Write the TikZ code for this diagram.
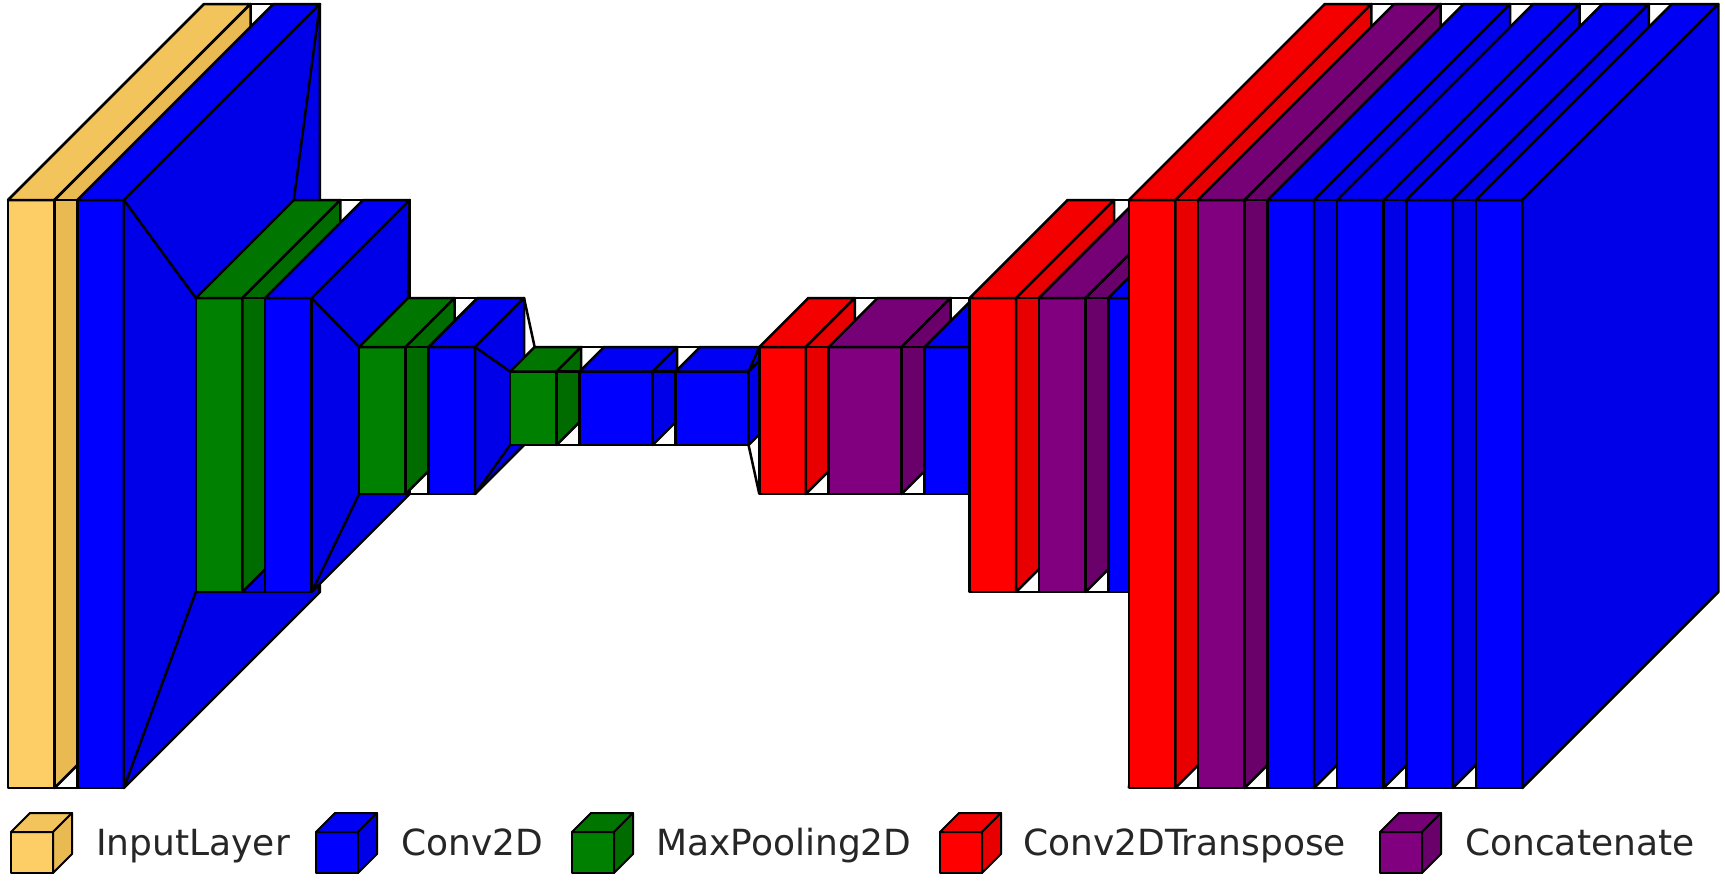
\documentclass[tikz,border=0pt]{standalone}
\usepackage{fontspec}
\setmainfont{DejaVu Sans}
\usetikzlibrary{calc}
\definecolor{inF}{RGB}{253,205,102}
\definecolor{inT}{RGB}{243,195,92}
\definecolor{inS}{RGB}{233,185,82}
\definecolor{cvF}{RGB}{0,0,255}
\definecolor{cvT}{RGB}{0,0,245}
\definecolor{cvS}{RGB}{0,0,232}
\definecolor{mpF}{RGB}{0,128,0}
\definecolor{mpT}{RGB}{0,118,0}
\definecolor{mpS}{RGB}{0,108,0}
\definecolor{ctF}{RGB}{255,0,0}
\definecolor{ctT}{RGB}{245,0,0}
\definecolor{ctS}{RGB}{232,0,0}
\definecolor{caF}{RGB}{128,0,128}
\definecolor{caT}{RGB}{118,0,118}
\definecolor{caS}{RGB}{106,0,106}
\newcommand{\vkbox}[4]{% name, x1, h, w
  \pgfmathsetmacro{\vkde}{#3/3}%
  \pgfmathsetmacro{\vkya}{396-#3/3}%
  \pgfmathsetmacro{\vkyb}{396+2*#3/3}%
  \pgfmathsetmacro{\vkxb}{#2+#4}%
  \pgfmathsetmacro{\vkxc}{#2+\vkde}%
  \pgfmathsetmacro{\vkxd}{\vkxb+\vkde}%
  \pgfmathsetmacro{\vkyc}{\vkya-\vkde}%
  \pgfmathsetmacro{\vkyd}{\vkyb-\vkde}%
  \coordinate (#1-ftl) at (#2,\vkya);
  \coordinate (#1-ftr) at (\vkxb,\vkya);
  \coordinate (#1-fbl) at (#2,\vkyb);
  \coordinate (#1-fbr) at (\vkxb,\vkyb);
  \coordinate (#1-btl) at (\vkxc,\vkyc);
  \coordinate (#1-btr) at (\vkxd,\vkyc);
  \coordinate (#1-bbl) at (\vkxc,\vkyd);
  \coordinate (#1-bbr) at (\vkxd,\vkyd);
}
\newcommand{\vklegbox}[2]{% name, x
  \pgfmathsetmacro{\vkxb}{#2+42}%
  \pgfmathsetmacro{\vkxc}{#2+19}%
  \pgfmathsetmacro{\vkxd}{#2+61}%
  \coordinate (#1-ftl) at (#2,832);
  \coordinate (#1-ftr) at (\vkxb,832);
  \coordinate (#1-fbl) at (#2,873);
  \coordinate (#1-fbr) at (\vkxb,873);
  \coordinate (#1-btl) at (\vkxc,813);
  \coordinate (#1-btr) at (\vkxd,813);
  \coordinate (#1-bbl) at (\vkxc,854);
  \coordinate (#1-bbr) at (\vkxd,854);
}
\newcommand{\vkdraw}[2]{% name, type
  \draw[vkedge, fill=#2F] (#1-ftl) rectangle (#1-fbr);
  \draw[vkedge, fill=#2T] (#1-ftl) -- (#1-btl) -- (#1-btr) -- (#1-ftr) -- cycle;
  \draw[vkedge, fill=#2S] (#1-ftr) -- (#1-btr) -- (#1-bbr) -- (#1-fbr) -- cycle;
}
\newcommand{\vkfunnel}[2]{% prev, cur
  \draw[vkedge] (#1-btr) -- (#2-btl);
  \draw[vkedge] (#1-bbr) -- (#2-bbl);
  \draw[vkedge] (#1-fbr) -- (#2-fbl);
  \draw[vkedge] (#1-ftr) -- (#2-ftl);
}
\tikzset{
  vkedge/.style={draw=black, line width=2.5pt, line join=round},
  legtext/.style={anchor=base west, inner sep=0pt, text=black!85, font=\fontsize{36}{43}\selectfont}
}
\begin{document}
\begin{tikzpicture}[x=1pt,y=-1pt]
\useasboundingbox (0,0) rectangle (1725,884);
\fill[white] (0,0) rectangle (1725,884);
% box geometry: name, x1, height, width
\vkbox{b1}{8}{588}{46.5}
\vkbox{b2}{77.4}{588}{46.5}
\vkbox{b3}{195.8}{294}{46.5}
\vkbox{b4}{265.2}{294}{46.5}
\vkbox{b5}{359.1}{147}{46.5}
\vkbox{b6}{428.5}{147}{46.5}
\vkbox{b7}{510.15}{73.5}{46.5}
\vkbox{b8}{579.55}{73.5}{73}
\vkbox{b9}{675.55}{73.5}{73}
\vkbox{b10}{759.3}{147}{46.5}
\vkbox{b11}{828.7}{147}{73}
\vkbox{b12}{924.7}{147}{46.5}
\vkbox{b13}{969.6}{294}{46.5}
\vkbox{b14}{1039}{294}{46.5}
\vkbox{b15}{1108.4}{294}{46.5}
\vkbox{b16}{1128.8}{588}{46.5}
\vkbox{b17}{1198.2}{588}{46.5}
\vkbox{b18}{1267.6}{588}{46.5}
\vkbox{b19}{1337}{588}{46.5}
\vkbox{b20}{1406.4}{588}{46.5}
\vkbox{b21}{1475.8}{588}{46.5}
% drawing in layer order
\vkdraw{b1}{in}
\vkfunnel{b1}{b2}\vkdraw{b2}{cv}
\vkfunnel{b2}{b3}\vkdraw{b3}{mp}
\vkfunnel{b3}{b4}\vkdraw{b4}{cv}
\vkfunnel{b4}{b5}\vkdraw{b5}{mp}
\vkfunnel{b5}{b6}\vkdraw{b6}{cv}
\vkfunnel{b6}{b7}\vkdraw{b7}{mp}
\vkfunnel{b7}{b8}\vkdraw{b8}{cv}
\vkfunnel{b8}{b9}\vkdraw{b9}{cv}
\vkfunnel{b9}{b10}\vkdraw{b10}{ct}
\vkfunnel{b10}{b11}\vkdraw{b11}{ca}
\vkfunnel{b11}{b12}\vkdraw{b12}{cv}
\vkfunnel{b12}{b13}\vkdraw{b13}{ct}
\vkfunnel{b13}{b14}\vkdraw{b14}{ca}
\vkfunnel{b14}{b15}\vkdraw{b15}{cv}
\vkfunnel{b15}{b16}\vkdraw{b16}{ct}
\vkfunnel{b16}{b17}\vkdraw{b17}{ca}
\vkfunnel{b17}{b18}\vkdraw{b18}{cv}
\vkfunnel{b18}{b19}\vkdraw{b19}{cv}
\vkfunnel{b19}{b20}\vkdraw{b20}{cv}
\vkfunnel{b20}{b21}\vkdraw{b21}{cv}
% legend
\begin{scope}[vkedge/.append style={line width=2pt}]
\vklegbox{l1}{11}\vkdraw{l1}{in}
\vklegbox{l2}{316}\vkdraw{l2}{cv}
\vklegbox{l3}{572}\vkdraw{l3}{mp}
\vklegbox{l4}{940}\vkdraw{l4}{ct}
\vklegbox{l5}{1380}\vkdraw{l5}{ca}
\end{scope}
\node[legtext] (t1) at (96,855) {InputLayer};
\node[legtext] (t2) at (401,855) {Conv2D};
\node[legtext] (t3) at (656,855) {MaxPooling2D};
\node[legtext] (t4) at (1023,855) {Conv2DTranspose};
\node[legtext] (t5) at (1465,855) {Concatenate};
\end{tikzpicture}
\end{document}
